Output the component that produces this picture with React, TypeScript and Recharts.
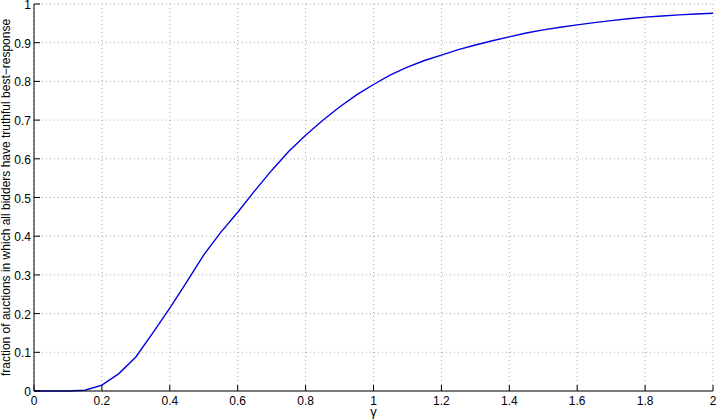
import { LineChart, Line, XAxis, YAxis, CartesianGrid } from 'recharts';

const gammaValues = [
  0, 0.05, 0.1, 0.15, 0.2, 0.25, 0.3, 0.35, 0.4, 0.45, 0.5, 0.55, 0.6, 0.65, 0.7, 0.75, 0.8,
  0.85, 0.9, 0.95, 1, 1.05, 1.1, 1.15, 1.2, 1.25, 1.3, 1.35, 1.4, 1.45, 1.5, 1.55, 1.6, 1.65,
  1.7, 1.75, 1.8, 1.85, 1.9, 1.95, 2,
];
const truthfulFraction = [
  0, 0, 0, 0.002, 0.015, 0.045, 0.088, 0.15, 0.214, 0.282, 0.352, 0.41, 0.462, 0.517, 0.57,
  0.619, 0.661, 0.699, 0.734, 0.765, 0.792, 0.817, 0.837, 0.854, 0.868, 0.882, 0.894, 0.905,
  0.915, 0.925, 0.933, 0.94, 0.946, 0.952, 0.957, 0.962, 0.966, 0.969, 0.972, 0.974, 0.976,
];
const xTicks = [0, 0.2, 0.4, 0.6, 0.8, 1, 1.2, 1.4, 1.6, 1.8, 2];
const yTicks = [0, 0.1, 0.2, 0.3, 0.4, 0.5, 0.6, 0.7, 0.8, 0.9, 1];

const data = gammaValues.map((g, i) => ({ gamma: g, frac: truthfulFraction[i] }));

const FONT = '"Liberation Sans", Arial, sans-serif';
const TICK_LEN = 6;

const BottomTick = (props: any) => {
  const { x, y, payload } = props;
  return (
    <g>
      <line x1={x} y1={y} x2={x} y2={y - TICK_LEN} stroke="#000" />
      <text x={x} y={y + 14} textAnchor="middle" fontSize={12} fontFamily={FONT} fill="#000">
        {payload.value}
      </text>
    </g>
  );
};

const TopTick = (props: any) => {
  const { x, y } = props;
  return <line x1={x} y1={y} x2={x} y2={y + TICK_LEN} stroke="#000" />;
};

const LeftTick = (props: any) => {
  const { x, y, payload } = props;
  return (
    <g>
      <line x1={x} y1={y} x2={x + TICK_LEN} y2={y} stroke="#000" />
      <text x={x - 3} y={y + 5} textAnchor="end" fontSize={12} fontFamily={FONT} fill="#000">
        {payload.value}
      </text>
    </g>
  );
};

const RightTick = (props: any) => {
  const { x, y } = props;
  return <line x1={x} y1={y} x2={x - TICK_LEN} y2={y} stroke="#000" />;
};

export default function App() {
  return (
    <div style={{ position: 'absolute', left: 0, top: 0, background: '#fff' }}>
      <LineChart width={717} height={419} data={data} margin={{ top: 4, right: 4, left: 0, bottom: 0 }}>
        <CartesianGrid
          xAxisId="bottom"
          yAxisId="left"
          stroke="#aaa"
          strokeDasharray="1 3"
        />
        <XAxis
          xAxisId="bottom"
          dataKey="gamma"
          type="number"
          domain={[0, 2]}
          ticks={xTicks}
          height={28}
          tickSize={0}
          tickMargin={0}
          tick={<BottomTick />}
          axisLine={{ stroke: '#000' }}
          tickLine={false}
          interval={0}
          label={{ value: 'γ', position: 'insideBottom', offset: 0, dy: -3, fontSize: 13, fontFamily: FONT, fill: '#000' }}
        />
        <XAxis
          xAxisId="top"
          orientation="top"
          dataKey="gamma"
          type="number"
          domain={[0, 2]}
          ticks={xTicks}
          height={0}
          tickSize={0}
          tickMargin={0}
          tick={<TopTick />}
          axisLine={{ stroke: '#000' }}
          tickLine={false}
          interval={0}
        />
        <YAxis
          yAxisId="left"
          type="number"
          domain={[0, 1]}
          ticks={yTicks}
          width={34}
          tickSize={0}
          tickMargin={0}
          tick={<LeftTick />}
          axisLine={{ stroke: '#000' }}
          tickLine={false}
          interval={0}
          label={{
            value: 'fraction of auctions in which all bidders have truthful best\u2212response',
            angle: -90,
            position: 'insideLeft',
            offset: 0,
            dx: 6,
            fontSize: 12,
            fontFamily: FONT,
            fill: '#000',
            style: { textAnchor: 'middle' },
          }}
        />
        <YAxis
          yAxisId="right"
          orientation="right"
          type="number"
          domain={[0, 1]}
          ticks={yTicks}
          width={0}
          tickSize={0}
          tickMargin={0}
          tick={<RightTick />}
          axisLine={{ stroke: '#000' }}
          tickLine={false}
          interval={0}
        />
        <Line
          xAxisId="bottom"
          yAxisId="left"
          type="linear"
          dataKey="frac"
          stroke="#0000e0"
          strokeWidth={1.4}
          dot={false}
          isAnimationActive={false}
        />
      </LineChart>
    </div>
  );
}
